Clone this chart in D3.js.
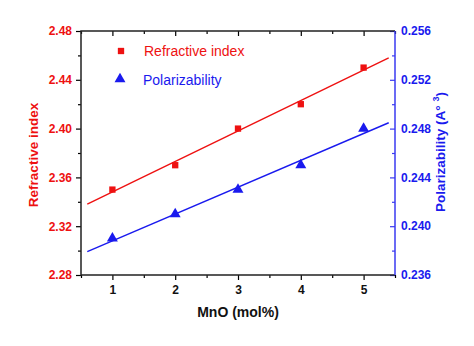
<!DOCTYPE html>
<html><head><meta charset="utf-8">
<script src="https://cdn.jsdelivr.net/npm/d3@7"></script>
<style>body{margin:0;background:#fff}svg{display:block;font-family:"Liberation Sans",Arial,sans-serif}</style>
</head><body><svg id="c" width="474" height="346"></svg>
<script>
const mno = [1, 2, 3, 4, 5];
const refractiveIndex = [2.35, 2.37, 2.40, 2.42, 2.45];
const polarizability = [0.239, 0.241, 0.243, 0.245, 0.248];
const xTicks = [1, 2, 3, 4, 5];
const leftTicks = [2.28, 2.32, 2.36, 2.40, 2.44, 2.48];
const rightTicks = [0.236, 0.240, 0.244, 0.248, 0.252, 0.256];
const fitRange = [0.6, 5.4];

const RED = "#ee1111", BLUE = "#1a1aee", AXBLUE = "#3a3af0";
const svg = d3.select("#c");
const L = 81, R = 395, T = 31, B = 275;
const x = d3.scaleLinear().domain([0.5, 5.5]).range([L, R]);
const yL = d3.scaleLinear().domain([2.28, 2.48]).range([B, T]);
const yR = d3.scaleLinear().domain([0.236, 0.256]).range([B, T]);

function fit(xs, ys) {
  const mx = d3.mean(xs), my = d3.mean(ys);
  const s = d3.sum(xs, (v, i) => (v - mx) * (ys[i] - my)) / d3.sum(xs, v => (v - mx) ** 2);
  return v => my + s * (v - mx);
}

// minor ticks
function minor(scale, step, lo, hi) { const a = []; for (let v = lo; v <= hi + 1e-9; v += step) a.push(+v.toFixed(4)); return a; }
const g = svg.append("g");
// bottom axis (outward)
g.append("g").attr("transform", `translate(0,${B})`)
  .call(d3.axisBottom(x).tickValues(minor(x, 0.5, 0.5, 5.5).filter(v => !xTicks.includes(v))).tickSize(3).tickFormat(""))
  .call(a => a.select(".domain").remove());
g.append("g").attr("transform", `translate(0,${B})`)
  .call(d3.axisBottom(x).tickValues(xTicks).tickSize(5).tickPadding(5).tickFormat(d3.format("d")))
  .call(a => a.select(".domain").remove())
  .call(a => a.selectAll("text").attr("font-size", 12).attr("font-weight", "bold").attr("fill", "#111"));
// top axis (inward)
g.append("g").attr("transform", `translate(0,${T})`)
  .call(d3.axisBottom(x).tickValues(minor(x, 0.5, 0.5, 5.5).filter(v => !xTicks.includes(v))).tickSize(3).tickFormat(""))
  .call(a => a.select(".domain").remove());
g.append("g").attr("transform", `translate(0,${T})`)
  .call(d3.axisBottom(x).tickValues(xTicks).tickSize(5).tickFormat(""))
  .call(a => a.select(".domain").remove());
// left axis (outward)
g.append("g").attr("transform", `translate(${L},0)`)
  .call(d3.axisLeft(yL).tickValues(minor(yL, 0.02, 2.30, 2.46).filter((v, i) => i % 2 === 0)).tickSize(3).tickFormat(""))
  .call(a => a.select(".domain").remove());
g.append("g").attr("transform", `translate(${L},0)`)
  .call(d3.axisLeft(yL).tickValues(leftTicks).tickSize(5).tickPadding(4).tickFormat(d3.format(".2f")))
  .call(a => a.select(".domain").remove())
  .call(a => a.selectAll("text").attr("font-size", 12).attr("font-weight", "bold").attr("fill", RED));
// right axis (inward)
g.append("g").attr("transform", `translate(${R},0)`)
  .call(d3.axisLeft(yR).tickValues(minor(yR, 0.004, 0.238, 0.254)).tickSize(3).tickFormat(""))
  .call(a => a.select(".domain").remove())
  .call(a => a.selectAll("line").attr("stroke", AXBLUE));
g.append("g").attr("transform", `translate(${R},0)`)
  .call(d3.axisLeft(yR).tickValues(rightTicks).tickSize(5).tickFormat(""))
  .call(a => a.select(".domain").remove())
  .call(a => a.selectAll("line").attr("stroke", AXBLUE));
g.append("g").selectAll("text").data(rightTicks).join("text")
  .attr("x", R + 6).attr("y", d => yR(d)).attr("dy", "0.35em")
  .attr("font-size", 12).attr("font-weight", "bold").attr("fill", BLUE)
  .text(d3.format(".3f"));
g.selectAll("line").attr("stroke-width", 1.2);

// frame
svg.append("path").attr("d", `M${R},${T}H${L}V${B}H${R}`).attr("fill", "none").attr("stroke", "#222").attr("stroke-width", 1.5);
svg.append("line").attr("x1", R).attr("x2", R).attr("y1", T).attr("y2", B).attr("stroke", AXBLUE).attr("stroke-width", 1.5);

// fit lines
const fR = fit(mno, refractiveIndex), fP = fit(mno, polarizability);
svg.append("line").attr("x1", x(fitRange[0])).attr("x2", x(fitRange[1]))
  .attr("y1", yL(fR(fitRange[0]))).attr("y2", yL(fR(fitRange[1]))).attr("stroke", RED).attr("stroke-width", 1.4);
svg.append("line").attr("x1", x(fitRange[0])).attr("x2", x(fitRange[1]))
  .attr("y1", yR(fP(fitRange[0]))).attr("y2", yR(fP(fitRange[1]))).attr("stroke", BLUE).attr("stroke-width", 1.4);

// markers
const sq = d3.symbol().type(d3.symbolSquare).size(40);
const tri = d3.symbol().type(d3.symbolTriangle).size(52);
svg.append("g").selectAll("path").data(mno).join("path")
  .attr("d", sq).attr("fill", RED)
  .attr("transform", (d, i) => `translate(${x(d)},${yL(refractiveIndex[i])})`);
svg.append("g").selectAll("path").data(mno).join("path")
  .attr("d", tri).attr("fill", BLUE)
  .attr("transform", (d, i) => `translate(${x(d)},${yR(polarizability[i])})`);

// legend
svg.append("path").attr("d", sq).attr("fill", RED).attr("transform", "translate(121,51)");
svg.append("text").attr("x", 144).attr("y", 51).attr("dy", "0.35em").attr("font-size", 14).attr("fill", RED).text("Refractive index");
svg.append("path").attr("d", tri).attr("fill", BLUE).attr("transform", "translate(120,79)");
svg.append("text").attr("x", 143).attr("y", 80).attr("dy", "0.35em").attr("font-size", 14).attr("fill", BLUE).text("Polarizability");

// axis titles
svg.append("text").attr("x", 238).attr("y", 317).attr("text-anchor", "middle")
  .attr("font-size", 14).attr("font-weight", "bold").attr("fill", "#111").text("MnO (mol%)");
svg.append("text").attr("transform", "translate(38,155) rotate(-90)").attr("text-anchor", "middle")
  .attr("font-size", 13.5).attr("font-weight", "bold").attr("fill", RED).text("Refractive index");
const pt = svg.append("text").attr("transform", "translate(445,152) rotate(-90)").attr("text-anchor", "middle")
  .attr("font-size", 13.5).attr("font-weight", "bold").attr("fill", BLUE);
pt.append("tspan").text("Polarizability (A\u00B0 ");
pt.append("tspan").attr("font-size", 9).attr("dy", -6).text("3");
pt.append("tspan").attr("dy", 6).text(")");
</script></body></html>
